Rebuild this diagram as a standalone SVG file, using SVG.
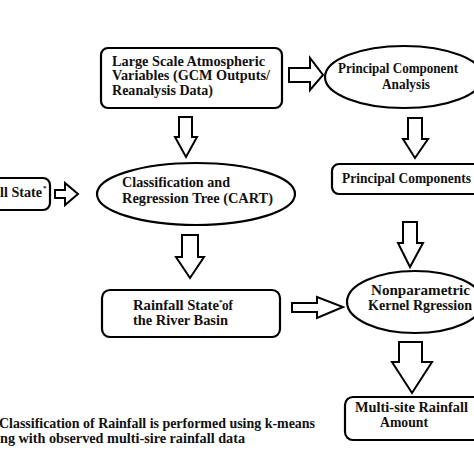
<svg xmlns="http://www.w3.org/2000/svg" width="474" height="474" viewBox="0 0 474 474">
<style>
.s{fill:#fff;stroke:#000;stroke-width:2.2;stroke-linejoin:miter}
.a{fill:#fff;stroke:#000;stroke-width:2}
text{font-family:"Liberation Serif","Times New Roman",serif;font-weight:bold;font-size:14px;fill:#111}
.sup{font-size:7px}
</style>
<rect width="474" height="474" fill="#fff"/>
<g id="connectors">
<path class="a" d="M289,68 H310 V58 L323,75 L310,90 V82 H289 Z"/>
<path class="a" d="M179,117 H192 V137 H197 L186,157 L175,137 H179 Z"/>
<path class="a" d="M408,118 H422 V139 H428 L415,158 L403,139 H408 Z"/>
<path class="a" d="M55,190 H65 V183 L78,194 L65,205 V198 H55 Z"/>
<path class="a" d="M182,235 H198 V257 H204 L190,278 L176,257 H182 Z"/>
<path class="a" d="M403,222 H417 V243 H423 L410,267 L398,243 H403 Z"/>
<path class="a" d="M292,303 H317 V297 L343,307 L317,318 V312 H292 Z"/>
<path class="a" d="M399,342 H422 V362 H432 L412,393 L392,362 H399 Z"/>
</g>
<g id="large-scale">
<rect class="s" x="101" y="48" width="181" height="60" rx="7"/>
<text x="112" y="66" textLength="153" lengthAdjust="spacingAndGlyphs">Large Scale Atmospheric</text>
<text x="112" y="80" textLength="158" lengthAdjust="spacingAndGlyphs">Variables (GCM Outputs/</text>
<text x="112" y="95" textLength="101" lengthAdjust="spacingAndGlyphs">Reanalysis Data)</text>
</g>
<g id="pca">
<ellipse class="s" cx="404" cy="77" rx="79" ry="31"/>
<text x="338" y="73" textLength="120" lengthAdjust="spacingAndGlyphs">Principal Component</text>
<text x="382" y="89" textLength="48" lengthAdjust="spacingAndGlyphs">Analysis</text>
</g>
<g id="rainfall-state-left">
<rect class="s" x="-20" y="178" width="70" height="32" rx="7"/>
<text x="0" y="197" textLength="42" lengthAdjust="spacingAndGlyphs">ll State</text>
<text x="43" y="190" class="sup">*</text>
</g>
<g id="cart">
<ellipse class="s" cx="196" cy="194" rx="99" ry="31"/>
<text x="122" y="187" textLength="108" lengthAdjust="spacingAndGlyphs">Classification and</text>
<text x="122" y="203" textLength="151" lengthAdjust="spacingAndGlyphs">Regression Tree (CART)</text>
</g>
<g id="pcs">
<rect class="s" x="332" y="164" width="160" height="30" rx="7"/>
<text x="342" y="183" textLength="129" lengthAdjust="spacingAndGlyphs">Principal Components</text>
</g>
<g id="rainfall-basin">
<rect class="s" x="102" y="290" width="178" height="47" rx="8"/>
<text x="133" y="310" textLength="86" lengthAdjust="spacingAndGlyphs">Rainfall State</text>
<text x="219" y="304" class="sup">*</text>
<text x="222" y="310" textLength="11" lengthAdjust="spacingAndGlyphs">of</text>
<text x="133" y="325" textLength="95" lengthAdjust="spacingAndGlyphs">the River Basin</text>
</g>
<g id="nkr">
<ellipse class="s" cx="415" cy="302" rx="68" ry="31"/>
<text x="371" y="295" textLength="99" lengthAdjust="spacingAndGlyphs">Nonparametric</text>
<text x="368" y="310" textLength="104" lengthAdjust="spacingAndGlyphs">Kernel Rgression</text>
</g>
<g id="multisite">
<rect class="s" x="345" y="397" width="150" height="43" rx="8"/>
<text x="355" y="412" textLength="113" lengthAdjust="spacingAndGlyphs">Multi-site Rainfall</text>
<text x="380" y="427" textLength="48" lengthAdjust="spacingAndGlyphs">Amount</text>
</g>
<g id="note">
<text x="-1" y="428" textLength="316" lengthAdjust="spacingAndGlyphs">Classification of Rainfall is performed using k-means</text>
<text x="0" y="443" textLength="245" lengthAdjust="spacingAndGlyphs">ng with observed multi-sire rainfall data</text>
</g>
</svg>
